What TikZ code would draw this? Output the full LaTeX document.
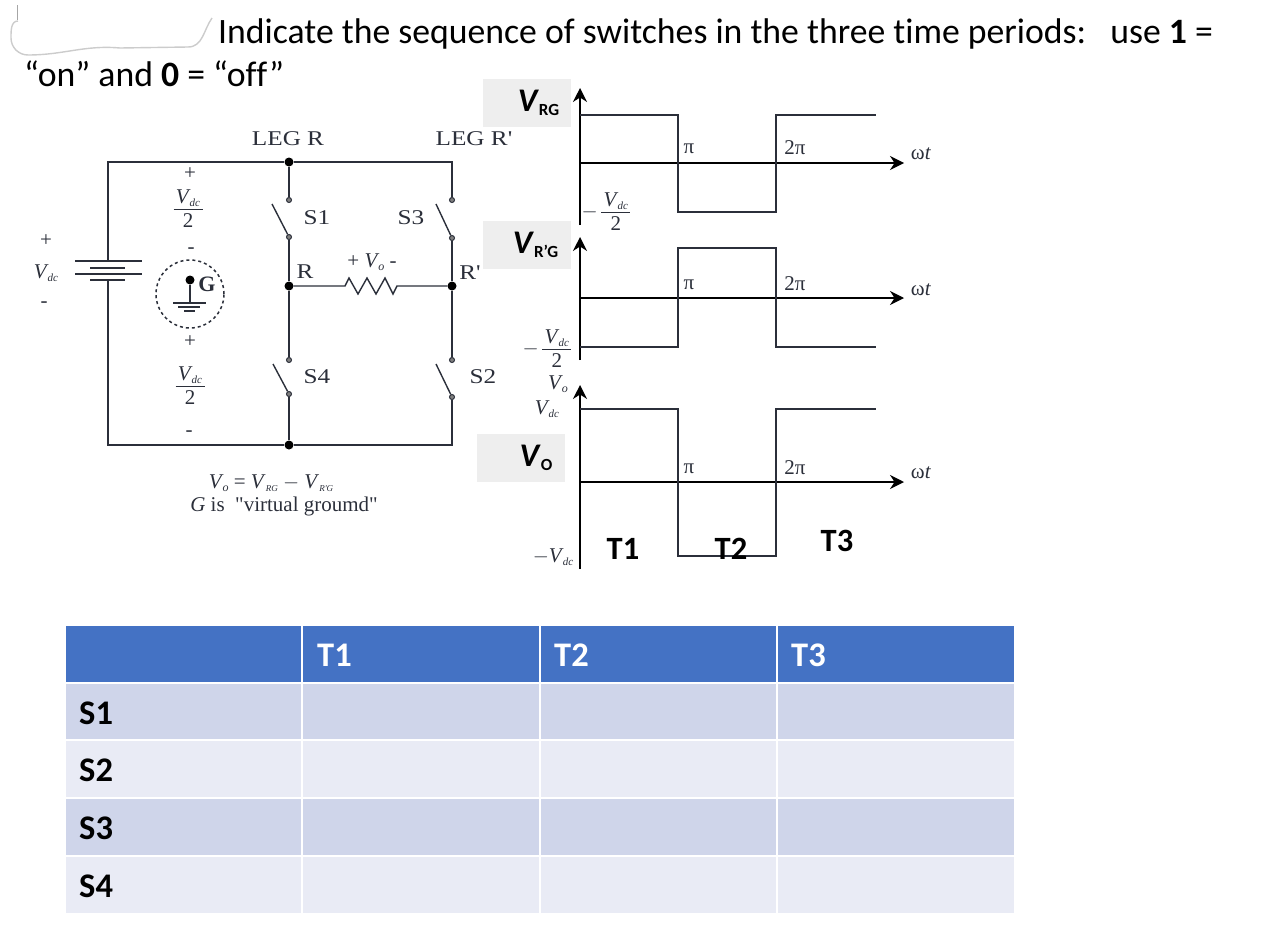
\documentclass[tikz,border=0pt]{standalone}
\usepackage{fontspec}
\setmainfont[Ligatures=NoCommon]{Carlito}
\newfontfamily\circfont{Liberation Serif}
\newfontfamily\circwide[FakeStretch=1.2]{Liberation Serif}
\usetikzlibrary{arrows.meta}
\definecolor{headblue}{HTML}{4472C4}
\definecolor{rowdark}{HTML}{CFD5EA}
\definecolor{rowlight}{HTML}{E9EBF5}
\definecolor{labelgray}{HTML}{EEEEEE}
\definecolor{circink}{HTML}{2B2F3A}
\newcommand{\Vdc}{\textit{V}\kern-1pt\raisebox{-3pt}{\fontsize{11}{11}\selectfont\textit{dc}}}
\newcommand{\Vo}{\textit{V}\kern-1pt\raisebox{-3pt}{\fontsize{12}{12}\selectfont\textit{o}}}
\newcommand{\halfdc}{\shortstack{\Vdc\\[-1pt]\rule{29pt}{.9pt}\\[1pt]2}}
\newcommand{\neghalf}{$-\,\vcenter{\hbox{\halfdc}}$}
\tikzset{
	wire/.style={draw=circink, line width=1.4pt},
	dot/.style={circle, fill=black, inner sep=0pt, minimum size=9pt},
	contact/.style={circle, draw=circink, fill=gray, line width=1pt, inner sep=0pt, minimum size=5pt},
	circtext/.style={inner sep=0pt, text=circink, font=\circfont\fontsize{21}{23}\selectfont},
	legtext/.style={inner sep=0pt, text=circink, font=\circwide\fontsize{21}{23}\selectfont},
	bigtext/.style={inner sep=0pt, anchor=base west, font=\fontsize{35.7}{40}\selectfont},
	graytag/.style={fill=labelgray, minimum width=88pt, minimum height=48pt, inner sep=0pt, font=\bfseries\fontsize{33}{35}\selectfont},
	tlabel/.style={inner sep=0pt, font=\bfseries\fontsize{32.5}{35}\selectfont},
	cell/.style={anchor=north west, inner sep=0pt, outer sep=0pt, draw=white, line width=1.5pt},
	celltext/.style={inner sep=0pt, anchor=west, font=\bfseries\fontsize{34.5}{36}\selectfont},
	axisline/.style={wire, draw=black, -{Stealth[length=14pt,width=14pt]}},
}
\begin{document}
\begin{tikzpicture}[x=1pt, y=-1pt]
	\useasboundingbox (0,0) rectangle (1284,948);

	% title and the white blot
	\draw [gray!70, line width=.8pt] (17,5) -- (17,20);
	\draw [fill=white, draw=gray!40, line width=1.4pt] (18,21) to [out=180, in=90] (11,38) to [out=-90, in=180] (28,55) to [out=0, in=175] (120,48) -- (188,47) to [out=0, in=-125] (212,18);
	\node [bigtext] (title) at (218,43) {Indicate the sequence of switches in the three time periods:\ \ \ use \textbf{1} =};
	\node [bigtext] (title2) at (24,86) {“on” and \textbf{0} = “off”};

	% circuit
	\node [dot] (jtop) at (289,162) {};
	\node [dot] (jr) at (289,286) {};
	\node [dot] (jrp) at (452,286) {};
	\node [dot] (jbot) at (289,445) {};
	\coordinate (tl) at (108,162);
	\coordinate (tr) at (452,162);
	\coordinate (bl) at (108,445);
	\coordinate (br) at (452,445);
	\coordinate (batp) at (108,261);
	\coordinate (batn) at (108,280);
	\node [contact] (s1a) at (289,200) {};
	\node [contact] (s1b) at (289,237) {};
	\node [contact] (s3a) at (452,200) {};
	\node [contact] (s3b) at (452,238) {};
	\node [contact] (s4a) at (289,360) {};
	\node [contact] (s4b) at (289,394) {};
	\node [contact] (s2a) at (452,360) {};
	\node [contact] (s2b) at (452,397) {};
	\coordinate (s1t) at (272,204);
	\coordinate (s3t) at (436,204);
	\coordinate (s4t) at (273,364);
	\coordinate (s2t) at (436,364);
	\coordinate (resl) at (345,286);
	\coordinate (resr) at (397,286);

	\draw [wire] (batp) -- (tl) -- (jtop) -- (tr) -- (s3a);
	\draw [wire] (batn) -- (bl) -- (jbot) -- (br) -- (s2b);
	\draw [wire] (jtop) -- (s1a);
	\draw [wire] (s1b) -- (jr) -- (s4a);
	\draw [wire] (s3b) -- (jrp) -- (s2a);
	\draw [wire] (s4b) -- (jbot);
	\draw [wire] (s1t) -- (s1b);
	\draw [wire] (s3t) -- (s3b);
	\draw [wire] (s4t) -- (s4b);
	\draw [wire] (s2t) -- (s2b);
	\draw [wire] (jr) -- (resl) -- ++(4,-8) -- ++(9,16) -- ++(9,-16) -- ++(9,16) -- ++(9,-16) -- ++(8,16) -- (resr) -- (jrp);

	% battery
	\draw [wire] (75,261) -- (142,261);
	\draw [wire] (90,268) -- (125,268);
	\draw [wire] (75,274) -- (142,274);
	\draw [wire] (90,280) -- (125,280);

	% virtual ground
	\node [circle, draw=circink, dashed, line width=1.5pt, minimum size=68pt, inner sep=0pt] (gring) at (190,294) {};
	\node [dot] (gdot) at (190,280) {};
	\coordinate (gnd) at (190,303);
	\draw [wire] (gdot) -- (gnd);
	\draw [wire] (173,303) -- (206,303);
	\draw [wire] (178,307) -- (200,307);
	\draw [wire] (184,311) -- (195,311);
	\node [circtext, font=\circfont\bfseries\fontsize{22}{22}\selectfont] (glabel) at (207,284) {G};

	% circuit labels
	\node [legtext] (legr) at (288,139) {LEG R};
	\node [legtext] (legrp) at (474,139) {LEG R'};
	\node [legtext] (s1) at (317,218) {S1};
	\node [legtext] (s3) at (411,218) {S3};
	\node [legtext] (s4) at (317,377) {S4};
	\node [legtext] (s2) at (483,377) {S2};
	\node [legtext] (rlab) at (305,272) {R};
	\node [legtext] (rplab) at (470,273) {R'};
	\node [circtext] (vores) at (372,262) {+ \Vo{} -};
	\node [circtext] (vplus) at (46,241) {+};
	\node [circtext] (vlab) at (46,273) {\Vdc};
	\node [circtext] (vminus) at (44,305) {-};
	\node [circtext] (hplus) at (190,174) {+};
	\node [circtext] (hfrac) at (188,209) {\halfdc};
	\node [circtext] (hminus) at (191,251) {-};
	\node [circtext] (lplus) at (190,342) {+};
	\node [circtext] (lfrac) at (190,386) {\halfdc};
	\node [circtext] (lminus) at (189,434) {-};
	\node [circtext] (eqn) at (271,483) {\Vo{} = \textit{V}\raisebox{-3pt}{\fontsize{9}{9}\selectfont\textit{RG}} $-$ \textit{V}\raisebox{-3pt}{\fontsize{9}{9}\selectfont\textit{R'G}}};
	\node [circtext] (gnote) at (284,506) {\textit{G} is \ "virtual groumd"};

	% waveforms
	\coordinate (a1top) at (580,88);
	\coordinate (a1bot) at (580,225);
	\coordinate (b1l) at (580,163);
	\coordinate (b1r) at (904,163);
	\coordinate (a2top) at (580,237);
	\coordinate (a2bot) at (580,360);
	\coordinate (b2l) at (580,298);
	\coordinate (b2r) at (904,298);
	\coordinate (a3top) at (580,385);
	\coordinate (a3bot) at (580,569);
	\coordinate (b3l) at (580,482);
	\coordinate (b3r) at (904,482);
	\draw [axisline] (a1bot) -- (a1top);
	\draw [axisline] (b1l) -- (b1r);
	\draw [axisline] (a2bot) -- (a2top);
	\draw [axisline] (b2l) -- (b2r);
	\draw [axisline] (a3bot) -- (a3top);
	\draw [axisline] (b3l) -- (b3r);
	\draw [wire] (580,115) -- (678,115) -- (678,212) -- (776,212) -- (776,115) -- (876,115);
	\draw [wire] (580,347) -- (678,347) -- (678,248) -- (776,248) -- (776,347) -- (876,347);
	\draw [wire] (580,409) -- (678,409) -- (678,556) -- (776,556) -- (776,409) -- (876,409);

	\foreach \row/\ybase/\ypi in {a/154/149, b/290/285, c/473/469} {
		\node [circtext] (pi\row) at (689,\ypi) {π};
		\node [circtext] (tpi\row) at (795,\ypi-1) {2π};
		\node [circtext] (wt\row) at (921,\ybase) {ω\textit{t}};
	}
	\node [circtext] (f1) at (606,212) {\neghalf};
	\node [circtext] (f2) at (547,349) {\neghalf};
	\node [circtext] (vout) at (558,384) {\Vo};
	\node [circtext] (vdcp) at (547,409) {\Vdc};
	\node [circtext] (vdcn) at (553,557) {$-$\Vdc};

	% gray tags
	\node [graytag] (vrg) at (527,103) {\hspace*{23pt}\raisebox{-2pt}{\textit{V}\raisebox{-4pt}{\fontsize{17}{17}\selectfont RG}}};
	\node [graytag] (vrpg) at (527,245) {\hspace*{17pt}\raisebox{-2pt}{\textit{V}\raisebox{-4pt}{\fontsize{17}{17}\selectfont R’G}}};
	\node [graytag] (vo) at (521,458) {\hspace*{30pt}\raisebox{-2pt}{\textit{V}\raisebox{-4pt}{\fontsize{17}{17}\selectfont O}}};

	\node [tlabel] (t1) at (623,549) {T1};
	\node [tlabel] (t2) at (731,549) {T2};
	\node [tlabel] (t3) at (837,541) {T3};

	% table
	\foreach \x/\w/\idx in {65.3/236.7/0, 302/238/1, 540/237/2, 777/237.7/3} {
		\node [cell, fill=headblue, minimum width=\w pt, minimum height=57.7pt] (h\idx) at (\x,625.3) {};
		\foreach \y/\h/\col/\r in {683/57/rowdark/1, 740/58/rowlight/2, 798/58/rowdark/3, 856/57.7/rowlight/4} {
			\node [cell, fill=\col, minimum width=\w pt, minimum height=\h pt] (c\idx\r) at (\x,\y) {};
		}
	}
	\foreach \x/\idx in {317/1, 554/2, 791/3} {
		\node [celltext, text=white] (ht\idx) at (\x,655) {T\idx};
	}
	\foreach \y/\idx in {713/1, 770/2, 828/3, 886/4} {
		\node [celltext] (st\idx) at (79,\y) {S\idx};
	}
\end{tikzpicture}
\end{document}
